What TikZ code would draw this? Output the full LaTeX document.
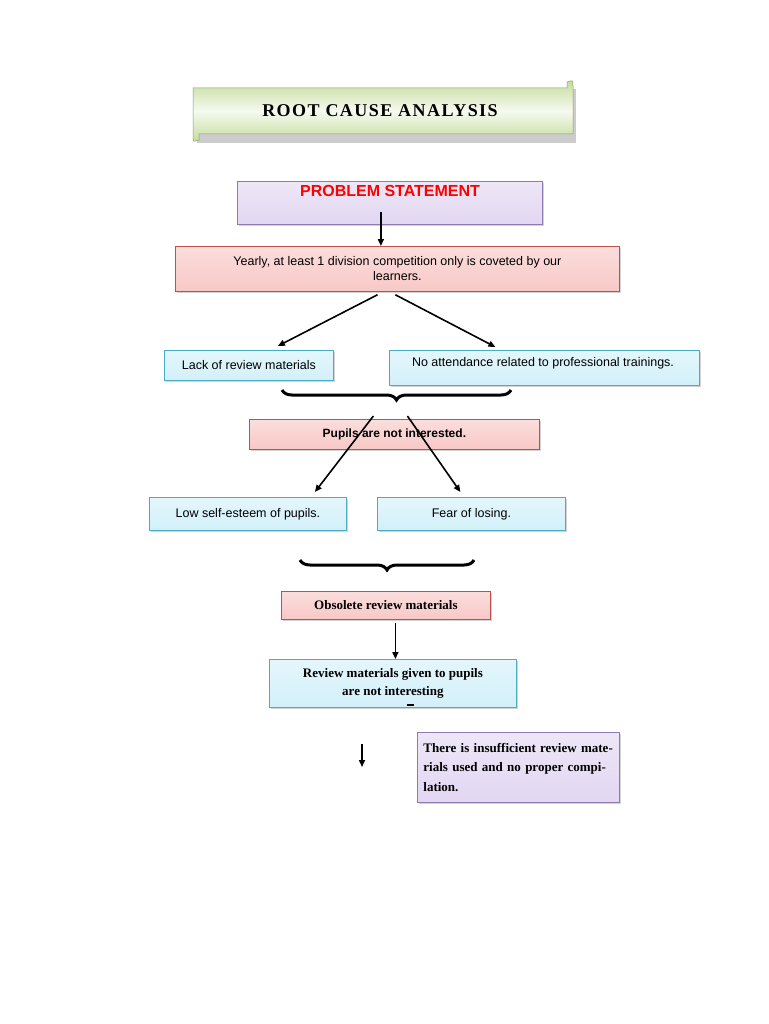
\documentclass[tikz,border=0pt]{standalone}
\usepackage{fontspec}
\setmainfont{Liberation Serif}
\setsansfont{Liberation Sans}
\usetikzlibrary{calc,decorations.pathreplacing,shadows,arrows.meta}
\definecolor{lav}{HTML}{E2D6F2}
\definecolor{lavd}{HTML}{8E7CB0}
\definecolor{pnk}{HTML}{F8C8C6}
\definecolor{pnkd}{HTML}{C0504D}
\definecolor{blu}{HTML}{D2F0FA}
\definecolor{blud}{HTML}{4BACC6}
\definecolor{grn}{HTML}{C4DC9C}
\tikzset{
  box/.style={draw, line width=0.8pt, minimum height=#1, inner sep=2pt, align=center, anchor=north west,
     drop shadow={shadow xshift=1.5pt,shadow yshift=-1.5pt,opacity=0.35}},
  box/.default=30,
  lavbox/.style={box, draw=lavd, top color=lav!60, bottom color=lav},
  pinkbox/.style={box, draw=pnkd, top color=pnk!60, bottom color=pnk},
  bluebox/.style={box, draw=blud, top color=blu!60, bottom color=blu},
  arr/.style={-{Triangle[length=7pt,width=6pt]}, line width=1.6pt},
  brc/.style={decorate, decoration={brace, amplitude=10pt, mirror}, line width=3pt},
  sf/.style={font=\sffamily\fontsize{12.5}{15}\selectfont}
}
\begin{document}
\begin{tikzpicture}[x=1pt,y=-1pt]
\useasboundingbox (0,0) rectangle (768,1024);
% title scroll
\fill[gray!40] (197,89) rectangle (576,143);
\shade[top color=grn, bottom color=grn, middle color=white!85!grn, draw=grn!70!black, line width=0.5pt]
  (193,88) -- (567,88) -- (567,82) .. controls (573,80) .. (573,86) -- (573,134) -- (199,134) -- (199,140) .. controls (193,142) .. (193,136) -- cycle;
\node (title) at (380,111) {\addfontfeature{LetterSpace=8}\fontsize{18}{20}\selectfont\bfseries ROOT CAUSE ANALYSIS};
% boxes
\node[lavbox, minimum width=305, minimum height=43, anchor=north west, text=red, font=\sffamily\bfseries\fontsize{16}{18}\selectfont, text depth=0pt] (ps) at (237,181) {};
\node[text=red, font=\sffamily\bfseries\fontsize{16}{18}\selectfont] at (390,191) {PROBLEM STATEMENT};
\node[pinkbox, minimum width=444, minimum height=45, sf] (yearly) at (175,246) {Yearly, at least 1 division competition only is coveted by our\\learners.};
\node[bluebox, minimum width=169, minimum height=30, sf] (lack) at (164,350) {Lack of review materials};
\node[bluebox, minimum width=310, minimum height=35, sf] (noatt) at (389,350) {};
\node[sf] at (543,363) {No attendance related to professional trainings.};
\node[pinkbox, minimum width=290, minimum height=30, font=\sffamily\bfseries\fontsize{12}{14}\selectfont] (pupils) at (249,419) {Pupils are not interested.};
\node[bluebox, minimum width=197, minimum height=33, sf] (low) at (149,497) {Low self-esteem of pupils.};
\node[bluebox, minimum width=188, minimum height=33, sf] (fear) at (377,497) {Fear of losing.};
\node[pinkbox, minimum width=209, minimum height=28, font=\bfseries\fontsize{13}{15}\selectfont] (obs) at (281,591) {Obsolete review materials};
\node[bluebox, minimum width=247, minimum height=48, font=\bfseries\fontsize{13}{18}\selectfont] (rev) at (269,659) {Review materials given to pupils\\are not interesting};
\node[lavbox, minimum width=202, minimum height=70, text width=190, align=left, font=\bfseries\fontsize{13}{19.5}\selectfont] (ins) at (417,732) {There is insufficient review materials used and no proper compilation.};
% connectors
\draw[arr] (ps.south) ++(-9,-13) coordinate (p1) -- (p1 |- yearly.north);
\draw[arr] ($(yearly.south)+(-20,3)$) -- ($(lack.north)+(29,-4)$);
\draw[arr] ($(yearly.south)+(-2,3)$) -- ($(noatt.north)+(-49,-3)$);
\draw[brc] (282,390) coordinate (b1a) -- (511,390) coordinate (b1b);
\draw[arr] ($(pupils.north)+(-21,-3)$) coordinate (pa) -- ($(low.north)+(67,-5)$);
\draw[arr] ($(pupils.north)+(13,-3)$) -- ($(fear.north)+(-11,-5)$);
\draw[brc] (300,560) coordinate (b2a) -- (474,560) coordinate (b2b);
\draw[arr] ($(obs.south)+(9.5,3)$) coordinate (o1) -- (o1 |- rev.north);
\draw[line width=2pt] (407,705) -- (414,705);
\coordinate (s1) at (362,744);
\coordinate (s2) at (362,767);
\draw[arr] (s1) -- (s2);
\end{tikzpicture}
\end{document}
